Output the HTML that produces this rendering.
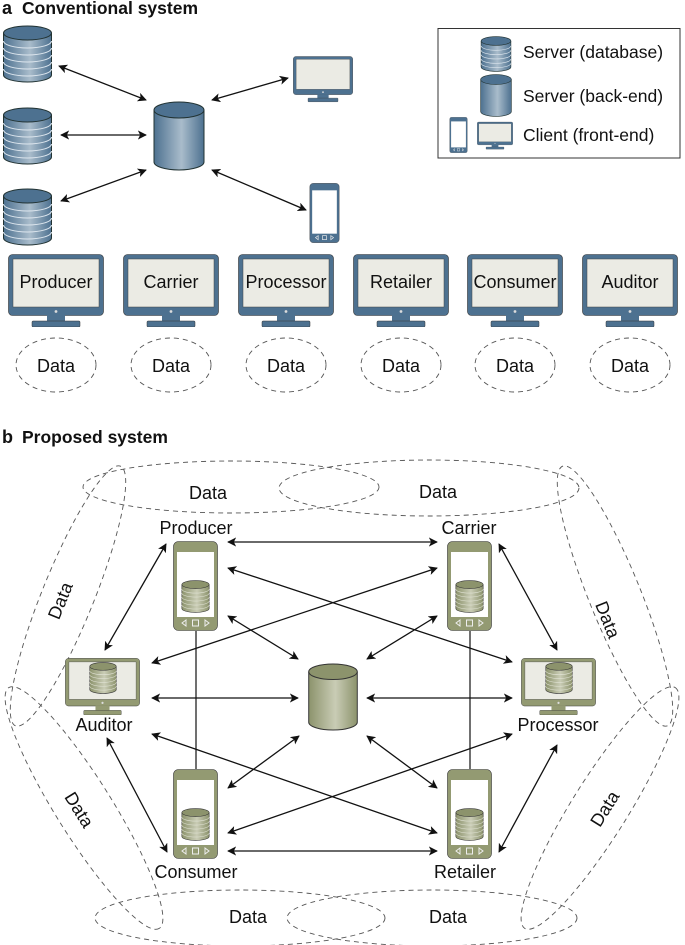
<!DOCTYPE html>
<html><head><meta charset="utf-8"><style>
html,body{margin:0;padding:0;background:#fff}
svg{display:block;font-family:"Liberation Sans",Arial,sans-serif}
</style></head><body>
<svg width="685" height="945" viewBox="0 0 685 945" xmlns="http://www.w3.org/2000/svg">
<defs>
<linearGradient id="gb" x1="0" x2="1" y1="0" y2="0"><stop offset="0" stop-color="#4d7190"/><stop offset="0.55" stop-color="#a9bccb"/><stop offset="1" stop-color="#4d7190"/></linearGradient>
<linearGradient id="go" x1="0" x2="1" y1="0" y2="0"><stop offset="0" stop-color="#8c936c"/><stop offset="0.55" stop-color="#c9ccb5"/><stop offset="1" stop-color="#8c936c"/></linearGradient>
<symbol id="diskb" viewBox="0 0 50 58"><path d="M1,8 V50 A24,7 0 0 0 49,50 V8" fill="url(#gb)" stroke="#233" stroke-width="1"/>
<g stroke="#dde6ee" stroke-width="1" fill="none"><path d="M1,16 A24,7 0 0 0 49,16"/><path d="M1,23 A24,7 0 0 0 49,23"/><path d="M1,30 A24,7 0 0 0 49,30"/><path d="M1,37 A24,7 0 0 0 49,37"/><path d="M1,44 A24,7 0 0 0 49,44"/></g>
<ellipse cx="25" cy="8" rx="24" ry="7" fill="#4d7190" stroke="#233" stroke-width="1"/></symbol>
<symbol id="disko" viewBox="0 0 50 58"><path d="M1,8 V50 A24,7 0 0 0 49,50 V8" fill="url(#go)" stroke="#333" stroke-width="1"/>
<g stroke="#e1e3d5" stroke-width="1" fill="none"><path d="M1,16 A24,7 0 0 0 49,16"/><path d="M1,23 A24,7 0 0 0 49,23"/><path d="M1,30 A24,7 0 0 0 49,30"/><path d="M1,37 A24,7 0 0 0 49,37"/><path d="M1,44 A24,7 0 0 0 49,44"/></g>
<ellipse cx="25" cy="8" rx="24" ry="7" fill="#8c936c" stroke="#333" stroke-width="1"/></symbol>
<symbol id="cylb" viewBox="0 0 52 70"><path d="M1,9 V61 A25,8 0 0 0 51,61 V9" fill="url(#gb)" stroke="#233"/><ellipse cx="26" cy="9" rx="25" ry="8" fill="#4d7190" stroke="#233"/></symbol>
<symbol id="cylo" viewBox="0 0 52 70"><path d="M1,9 V61 A25,8 0 0 0 51,61 V9" fill="url(#go)" stroke="#333"/><ellipse cx="26" cy="9" rx="25" ry="8" fill="#8c936c" stroke="#333"/></symbol>
<symbol id="mon" viewBox="0 0 96 73"><rect x="0.5" y="0.5" width="95" height="61" rx="4" fill="currentColor" stroke="#333" stroke-width="0.6"/><rect x="5" y="5" width="86" height="48" fill="#ebebe4" stroke="#444" stroke-width="0.5"/><circle cx="48" cy="57.5" r="1.4" fill="#ddd"/><rect x="39" y="61" width="18" height="7" fill="currentColor"/><rect x="24" y="67" width="48" height="6" rx="1" fill="currentColor" stroke="#333" stroke-width="0.5"/></symbol>
<symbol id="phone" viewBox="0 0 45 90"><rect x="0.5" y="0.5" width="44" height="89" rx="5" fill="currentColor" stroke="#333" stroke-width="0.6"/><rect x="4" y="11" width="37" height="65" fill="#fff"/><g fill="none" stroke="#eee" stroke-width="1"><path d="M13,79 L9,82 L13,85Z"/><rect x="19.5" y="79" width="6" height="6"/><path d="M32,79 L36,82 L32,85Z"/></g></symbol>
<marker id="ah" viewBox="0 0 10 10" refX="9" refY="5" markerWidth="9" markerHeight="9" markerUnits="userSpaceOnUse" orient="auto-start-reverse"><path d="M0,0 L10,5 L0,10 L2.5,5Z" fill="#111"/></marker>
</defs>

<!-- Part a -->
<text x="2" y="14" font-size="18" font-weight="bold" fill="#111">a</text>
<text x="22" y="14" font-size="17.5" font-weight="bold" fill="#111">Conventional system</text>
<use href="#diskb" x="2" y="25" width="51" height="58"/>
<use href="#diskb" x="2" y="107" width="51" height="58"/>
<use href="#diskb" x="2" y="188" width="51" height="58"/>
<use href="#cylb" x="153" y="101" width="52" height="70"/>
<use href="#mon" x="293" y="48" width="60" height="62" style="color:#4d7190" preserveAspectRatio="none"/>
<use href="#phone" x="309" y="183" width="31" height="60" style="color:#4d7190" preserveAspectRatio="none"/>
<g stroke="#111" stroke-width="1.3" marker-start="url(#ah)" marker-end="url(#ah)">
<line x1="59" y1="66" x2="146" y2="100"/>
<line x1="61" y1="135" x2="146" y2="135"/>
<line x1="61" y1="201" x2="146" y2="170"/>
<line x1="212" y1="100" x2="288" y2="78"/>
<line x1="212" y1="170" x2="306" y2="210"/>
</g>
<rect x="438" y="28.5" width="242" height="129.5" fill="none" stroke="#333" stroke-width="1"/>
<use href="#diskb" x="480" y="36" width="32" height="36"/>
<use href="#cylb" x="480" y="74" width="32" height="43" preserveAspectRatio="none"/>
<use href="#phone" x="449" y="117" width="19" height="36" style="color:#4d7190" preserveAspectRatio="none"/>
<use href="#mon" x="477" y="121" width="36" height="29" style="color:#4d7190" preserveAspectRatio="none"/>
<g font-size="17.5" fill="#111"><text x="523" y="58">Server (database)</text><text x="523" y="102">Server (back-end)</text><text x="523" y="141">Client (front-end)</text></g>

<g style="color:#4d7190">
<use href="#mon" x="8" y="254" width="96" height="73"/>
<use href="#mon" x="123" y="254" width="96" height="73"/>
<use href="#mon" x="238" y="254" width="96" height="73"/>
<use href="#mon" x="353" y="254" width="96" height="73"/>
<use href="#mon" x="467" y="254" width="96" height="73"/>
<use href="#mon" x="582" y="254" width="96" height="73"/>
</g>
<g font-size="18" fill="#111" text-anchor="middle">
<text x="56" y="288">Producer</text><text x="171" y="288">Carrier</text><text x="286" y="288">Processor</text><text x="401" y="288">Retailer</text><text x="515" y="288">Consumer</text><text x="630" y="288">Auditor</text>
</g>
<g fill="none" stroke="#555" stroke-width="0.9" stroke-dasharray="5,4">
<ellipse cx="56" cy="365" rx="40" ry="27"/><ellipse cx="171" cy="365" rx="40" ry="27"/><ellipse cx="286" cy="365" rx="40" ry="27"/><ellipse cx="401" cy="365" rx="40" ry="27"/><ellipse cx="515" cy="365" rx="40" ry="27"/><ellipse cx="630" cy="365" rx="40" ry="27"/>
</g>
<g font-size="18" fill="#111" text-anchor="middle">
<text x="56" y="372">Data</text><text x="171" y="372">Data</text><text x="286" y="372">Data</text><text x="401" y="372">Data</text><text x="515" y="372">Data</text><text x="630" y="372">Data</text>
</g>

<!-- Part b -->
<text x="2" y="443" font-size="18" font-weight="bold" fill="#111">b</text>
<text x="22" y="443" font-size="17.5" font-weight="bold" fill="#111">Proposed system</text>
<g fill="none" stroke="#555" stroke-width="0.9" stroke-dasharray="5,4">
<ellipse cx="231" cy="487" rx="148" ry="26"/>
<ellipse cx="429" cy="488" rx="150" ry="28"/>
<ellipse cx="240" cy="918" rx="145" ry="28"/>
<ellipse cx="432" cy="918" rx="145" ry="28"/>
<ellipse cx="0" cy="0" rx="140" ry="26" transform="translate(68,596) rotate(112)"/>
<ellipse cx="0" cy="0" rx="140" ry="26" transform="translate(615,596) rotate(68)"/>
<ellipse cx="0" cy="0" rx="142" ry="28" transform="translate(84,808) rotate(58)"/>
<ellipse cx="0" cy="0" rx="142" ry="28" transform="translate(600,808) rotate(-58)"/>
</g>
<g font-size="18" fill="#111" text-anchor="middle">
<text x="208" y="499">Data</text><text x="438" y="498">Data</text>
<text x="248" y="923">Data</text><text x="448" y="923">Data</text>
<text transform="translate(66,603) rotate(-68)">Data</text>
<text transform="translate(602,622) rotate(68)">Data</text>
<text transform="translate(74,813) rotate(58)">Data</text>
<text transform="translate(610,812) rotate(-58)">Data</text>
</g>
<g stroke="#111" stroke-width="1.2"><line x1="196" y1="631" x2="196" y2="769"/><line x1="470" y1="631" x2="470" y2="769"/></g>
<g style="color:#939a72">
<use href="#phone" x="173" y="541" width="45" height="90"/>
<use href="#phone" x="447" y="541" width="45" height="90"/>
<use href="#phone" x="173" y="769" width="45" height="90"/>
<use href="#phone" x="447" y="769" width="45" height="90"/>
<use href="#mon" x="65" y="658" width="75" height="57"/>
<use href="#mon" x="521" y="658" width="75" height="57"/>
</g>
<use href="#disko" x="181" y="580" width="29" height="33"/>
<use href="#disko" x="455" y="580" width="29" height="33"/>
<use href="#disko" x="181" y="808" width="29" height="33"/>
<use href="#disko" x="455" y="808" width="29" height="33"/>
<use href="#disko" x="89" y="662" width="28" height="32"/>
<use href="#disko" x="545" y="662" width="28" height="32"/>
<use href="#cylo" x="307" y="663" width="52" height="68"/>
<g font-size="18" fill="#111" text-anchor="middle">
<text x="196" y="534">Producer</text><text x="469" y="534">Carrier</text>
<text x="104" y="731">Auditor</text><text x="558" y="731">Processor</text>
<text x="196" y="878">Consumer</text><text x="465" y="878">Retailer</text>
</g>
<g stroke="#111" stroke-width="1.3" marker-start="url(#ah)" marker-end="url(#ah)">
<line x1="228" y1="542" x2="437" y2="542"/>
<line x1="228" y1="568" x2="512" y2="662"/>
<line x1="437" y1="568" x2="152" y2="663"/>
<line x1="228" y1="616" x2="298" y2="659"/>
<line x1="437" y1="616" x2="367" y2="659"/>
<line x1="152" y1="698" x2="298" y2="698"/>
<line x1="367" y1="698" x2="512" y2="698"/>
<line x1="152" y1="734" x2="437" y2="833"/>
<line x1="228" y1="833" x2="512" y2="734"/>
<line x1="299" y1="736" x2="228" y2="788"/>
<line x1="367" y1="736" x2="437" y2="788"/>
<line x1="228" y1="851" x2="437" y2="851"/>
<line x1="105" y1="650" x2="166" y2="544"/>
<line x1="107" y1="738" x2="167" y2="852"/>
<line x1="499" y1="544" x2="557" y2="650"/>
<line x1="499" y1="852" x2="557" y2="745"/>
</g>
</svg>
</body></html>
